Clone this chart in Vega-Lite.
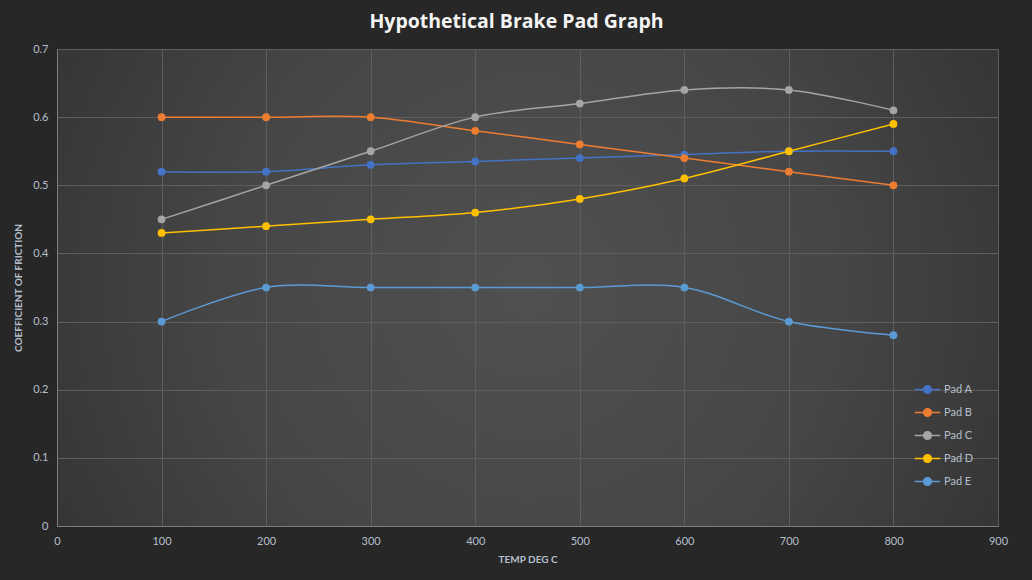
{
  "$schema": "https://vega.github.io/schema/vega-lite/v6.json",
  "autosize": {"type": "none"},
  "width": 941,
  "height": 477,
  "padding": {"left": 57, "top": 49, "right": 34, "bottom": 54},
  "background": "#272727",
  "title": {
    "text": "Hypothetical Brake Pad Graph",
    "font": "Open Sans",
    "fontSize": 19.5,
    "fontWeight": "bold",
    "color": "#f4f4f4",
    "anchor": "middle",
    "dx": -11,
    "offset": 11
  },
  "config": {
    "view": {
      "stroke": null,
      "fill": {
        "gradient": "radial",
        "x1": 0.5, "y1": 0.5, "r1": 0,
        "x2": 0.5, "y2": 0.5, "r2": 0.72,
        "stops": [
          {"offset": 0, "color": "#505050"},
          {"offset": 0.45, "color": "#464646"},
          {"offset": 1, "color": "#2a2a2a"}
        ]
      }
    },
    "axis": {
      "labelFont": "Lato",
      "labelFontSize": 11,
      "labelColor": "#b4bfcc",
      "titleFont": "Lato",
      "titleFontSize": 10,
      "titleFontWeight": "bold",
      "titleColor": "#b4bfcc",
      "domainColor": "#7c7c7c",
      "domainWidth": 1,
      "gridColor": "#5e5e5e",
      "gridWidth": 1,
      "ticks": false,
      "labelPadding": 9
    },
    "legend": {
      "labelFont": "Lato",
      "labelFontSize": 11,
      "labelColor": "#b4bfcc"
    }
  },
  "data": {
    "values": [
      {"temp": 100, "pad": "Pad A", "cof": 0.52},
      {"temp": 200, "pad": "Pad A", "cof": 0.52},
      {"temp": 300, "pad": "Pad A", "cof": 0.53},
      {"temp": 400, "pad": "Pad A", "cof": 0.535},
      {"temp": 500, "pad": "Pad A", "cof": 0.54},
      {"temp": 600, "pad": "Pad A", "cof": 0.545},
      {"temp": 700, "pad": "Pad A", "cof": 0.55},
      {"temp": 800, "pad": "Pad A", "cof": 0.55},
      {"temp": 100, "pad": "Pad B", "cof": 0.6},
      {"temp": 200, "pad": "Pad B", "cof": 0.6},
      {"temp": 300, "pad": "Pad B", "cof": 0.6},
      {"temp": 400, "pad": "Pad B", "cof": 0.58},
      {"temp": 500, "pad": "Pad B", "cof": 0.56},
      {"temp": 600, "pad": "Pad B", "cof": 0.54},
      {"temp": 700, "pad": "Pad B", "cof": 0.52},
      {"temp": 800, "pad": "Pad B", "cof": 0.5},
      {"temp": 100, "pad": "Pad C", "cof": 0.45},
      {"temp": 200, "pad": "Pad C", "cof": 0.5},
      {"temp": 300, "pad": "Pad C", "cof": 0.55},
      {"temp": 400, "pad": "Pad C", "cof": 0.6},
      {"temp": 500, "pad": "Pad C", "cof": 0.62},
      {"temp": 600, "pad": "Pad C", "cof": 0.64},
      {"temp": 700, "pad": "Pad C", "cof": 0.64},
      {"temp": 800, "pad": "Pad C", "cof": 0.61},
      {"temp": 100, "pad": "Pad D", "cof": 0.43},
      {"temp": 200, "pad": "Pad D", "cof": 0.44},
      {"temp": 300, "pad": "Pad D", "cof": 0.45},
      {"temp": 400, "pad": "Pad D", "cof": 0.46},
      {"temp": 500, "pad": "Pad D", "cof": 0.48},
      {"temp": 600, "pad": "Pad D", "cof": 0.51},
      {"temp": 700, "pad": "Pad D", "cof": 0.55},
      {"temp": 800, "pad": "Pad D", "cof": 0.59},
      {"temp": 100, "pad": "Pad E", "cof": 0.3},
      {"temp": 200, "pad": "Pad E", "cof": 0.35},
      {"temp": 300, "pad": "Pad E", "cof": 0.35},
      {"temp": 400, "pad": "Pad E", "cof": 0.35},
      {"temp": 500, "pad": "Pad E", "cof": 0.35},
      {"temp": 600, "pad": "Pad E", "cof": 0.35},
      {"temp": 700, "pad": "Pad E", "cof": 0.3},
      {"temp": 800, "pad": "Pad E", "cof": 0.28}
    ]
  },
  "mark": {
    "type": "line",
    "interpolate": "catmull-rom",
    "strokeWidth": 1.5,
    "point": {"filled": true, "size": 60, "opacity": 1}
  },
  "encoding": {
    "x": {
      "field": "temp",
      "type": "quantitative",
      "scale": {"domain": [0, 900], "nice": false},
      "axis": {"values": [0, 100, 200, 300, 400, 500, 600, 700, 800, 900], "title": "TEMP DEG C", "titlePadding": 8, "labelFlush": false}
    },
    "y": {
      "field": "cof",
      "type": "quantitative",
      "scale": {"domain": [0, 0.7], "nice": false},
      "axis": {
        "values": [0, 0.1, 0.2, 0.3, 0.4, 0.5, 0.6, 0.7],
        "labelExpr": "datum.value == 0 ? '0' : format(datum.value, '.1f')",
        "title": "COEFFICIENT OF FRICTION",
        "titlePadding": 9,
        "labelFlush": false
      }
    },
    "color": {
      "field": "pad",
      "type": "nominal",
      "scale": {
        "domain": ["Pad A", "Pad B", "Pad C", "Pad D", "Pad E"],
        "range": ["#4472c4", "#ed7d31", "#a5a5a5", "#ffc000", "#5b9bd5"]
      },
      "legend": {
        "title": null,
        "orient": "none",
        "legendX": 857,
        "legendY": 327,
        "symbolType": "M-1,0H-0.3A0.3,0.3 0 1,1 0.3,0A0.3,0.3 0 1,1 -0.3,0M0.3,0H1",
        "symbolSize": 650,
        "symbolStrokeWidth": 1.5,
        "rowPadding": 2,
        "labelOffset": 3
      }
    }
  }
}
